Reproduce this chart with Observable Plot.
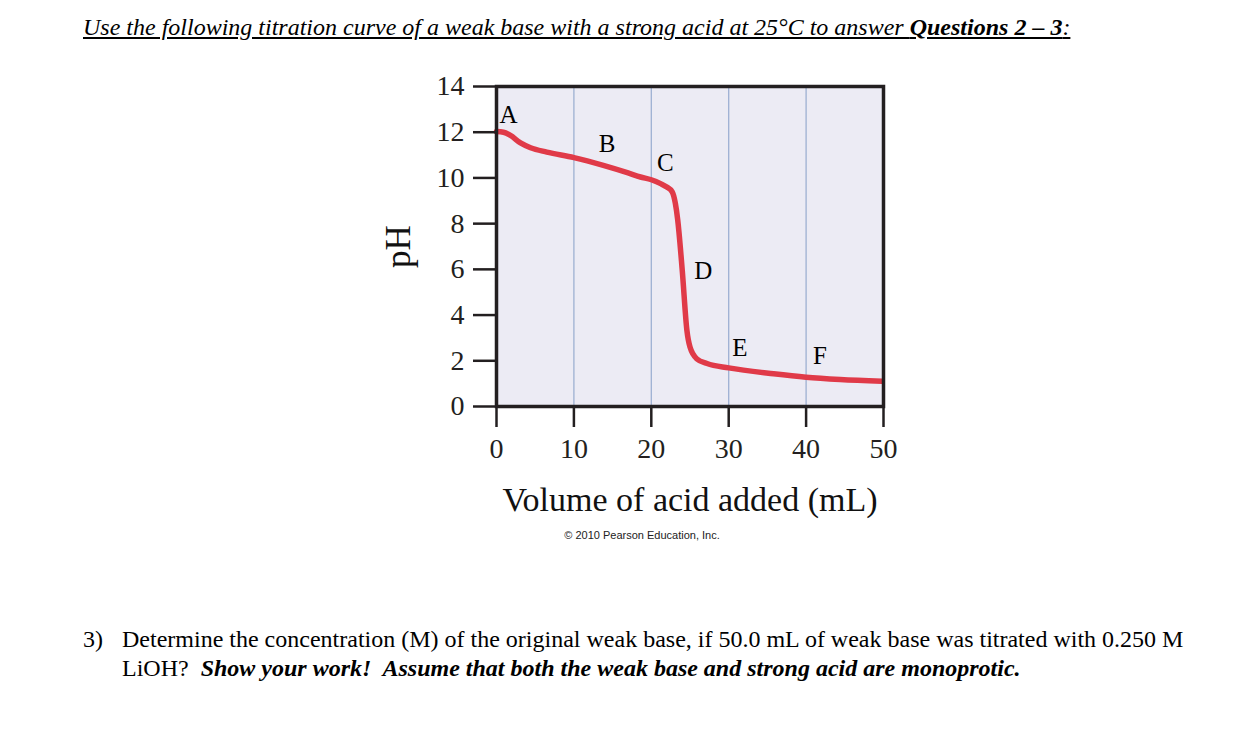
<!DOCTYPE html>
<html>
<head>
<meta charset="utf-8">
<script src="https://cdn.jsdelivr.net/npm/d3@7"></script>
<script src="https://cdn.jsdelivr.net/npm/@observablehq/plot@0.6"></script>
<style>
  html, body { margin: 0; padding: 0; background: #fff; }
  body { width: 1234px; height: 738px; position: relative; overflow: hidden; font-family: "Liberation Serif", "Times New Roman", serif; color: #000; }
  #title { position: absolute; left: 83px; top: 13px; font-size: 24px; line-height: 28px; font-style: italic; text-decoration: underline; white-space: nowrap; }
  #chart { position: absolute; left: 360px; top: 60px; }
  #question { position: absolute; left: 83px; top: 625px; font-size: 24px; line-height: 29px; white-space: nowrap; }
  #question .num { display: inline-block; width: 39px; }
  #question .indent { padding-left: 39px; }
</style>
</head>
<body>
<div id="title">Use the following titration curve of a weak base with a strong acid at 25°C to answer <b>Questions 2 – 3</b>:</div>
<div id="chart"></div>
<div id="question">
  <div><span class="num">3)</span>Determine the concentration (M) of the original weak base, if 50.0 mL of weak base was titrated with 0.250 M</div>
  <div class="indent">LiOH?&nbsp; <b><i>Show your work!&nbsp; Assume that both the weak base and strong acid are monoprotic.</i></b></div>
</div>
<script>
// Titration curve: volume of strong acid added (mL) vs. pH
const volume = [0, 0.9, 1.8, 3.1, 4.4, 6.5, 10, 13.8, 17, 18.6, 20, 21.2, 22, 22.7, 23.1, 23.4, 24.0, 24.6, 25.0, 25.9, 27.2, 30, 35.8, 40, 44.4, 49.8];
const pH     = [12.03, 12.0, 11.86, 11.53, 11.32, 11.13, 10.89, 10.55, 10.22, 10.04, 9.92, 9.75, 9.6, 9.39, 8.9, 8.2, 5.95, 3.33, 2.6, 2.08, 1.88, 1.69, 1.43, 1.28, 1.18, 1.1];

// Point labels along the curve
const pointNames  = ["A", "B", "C", "D", "E", "F"];
const pointVolume = [1.55, 14.3, 21.8, 26.7, 31.45, 41.8];
const pointPH     = [12.77, 11.5, 10.67, 5.95, 2.56, 2.19];

// Axis ticks and vertical guide lines
const xTicks = [0, 10, 20, 30, 40, 50];
const yTicks = [0, 2, 4, 6, 8, 10, 12, 14];
const guideLines = [10, 20, 30, 40];

const curve = volume.map((v, i) => ({volume: v, pH: pH[i]}));
const points = pointNames.map((name, i) => ({name, volume: pointVolume[i], pH: pointPH[i]}));

const ink = "#231f20";

const chart = Plot.plot({
  width: 560,
  height: 500,
  marginLeft: 136,
  marginRight: 37,
  marginTop: 26,
  marginBottom: 154,
  style: {fontFamily: "'Liberation Serif', serif", fontSize: "28px", background: "transparent", color: ink, overflow: "visible"},
  x: {domain: [0, 50]},
  y: {domain: [0, 14]},
  marks: [
    Plot.frame({fill: "#ecebf4", stroke: null}),
    Plot.ruleX(guideLines, {stroke: "#9eb0d2", strokeWidth: 1.3}),
    Plot.line(curve, {x: "volume", y: "pH", stroke: "#e03a48", strokeWidth: 5.5, curve: "monotone-x"}),
    Plot.text(points, {x: "volume", y: "pH", text: "name", fontSize: 25, fill: "#000"}),
    Plot.frame({stroke: ink, strokeWidth: 3.5}),
    Plot.axisY({ticks: yTicks, tickSize: 23, tickPadding: 9, fontSize: 28, label: null, stroke: ink, strokeWidth: 2.5}),
    Plot.axisX({ticks: xTicks, tickSize: 21, tickPadding: 11, fontSize: 28, label: null, stroke: ink, strokeWidth: 2.5}),
    Plot.text(["Volume of acid added (mL)"], {frameAnchor: "bottom", textAnchor: "middle", lineAnchor: "middle", dy: 94, fontSize: 34, fill: "#111", text: d => d}),
    Plot.text(["pH"], {frameAnchor: "left", textAnchor: "middle", lineAnchor: "middle", dx: -98, rotate: -90, fontSize: 35, fill: "#111", text: d => d}),
    Plot.text(["© 2010 Pearson Education, Inc."], {frameAnchor: "bottom", textAnchor: "middle", lineAnchor: "middle", dx: -48, dy: 129, fontSize: 11, fontFamily: "'Liberation Sans', Arial, sans-serif", fill: "#222", text: d => d})
  ]
});
document.getElementById("chart").appendChild(chart);
</script>
</body>
</html>
